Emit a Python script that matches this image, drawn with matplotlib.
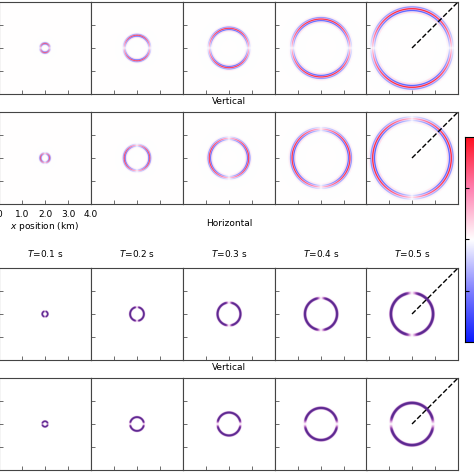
import numpy as np
import matplotlib
matplotlib.use("Agg")
import matplotlib.pyplot as plt
from matplotlib.colors import LinearSegmentedColormap

times = [0.1, 0.2, 0.3, 0.4, 0.5]
radii_p = [0.2, 0.55, 0.85, 1.25, 1.7]   # km, upper two rows
radii_s = [0.12, 0.3, 0.5, 0.7, 0.92]    # km, lower two rows
# angle of the amplitude nodes (gaps) for each row, degrees
gap_angle = [0, 90, 90, 0]

W = 474.0
col_left = [-1, 91, 183, 275, 366]
col_w = 92
row_top = [2, 112, 268, 378]
row_h = 92

fig = plt.figure(figsize=(4.74, 4.74), dpi=100)
bwr = LinearSegmentedColormap.from_list("bwr2", ["#0a1aff", "#8080ff", "#ffffff", "#ff80b0", "#ff1020"])
purp = LinearSegmentedColormap.from_list("purp", ["#ffffff", "#e0a8e0", "#8a3fa8", "#5a2a90"])

x = np.linspace(0, 4, 300)
X, Y = np.meshgrid(x, x)
R = np.hypot(X - 2, Y - 2)
TH = np.arctan2(Y - 2, X - 2)


def ax_at(l, t, w, h):
    return fig.add_axes([l / W, 1 - (t + h) / W, w / W, h / W])


for r in range(4):
    for c in range(5):
        ax = ax_at(col_left[c], row_top[r], col_w, row_h)
        g = np.radians(gap_angle[r])
        env = np.abs(np.sin(TH - g)) ** 0.5
        if r < 2:
            rad = radii_p[c]
            w = 0.05 + 0.015 * c
            field = np.exp(-((R - rad) / w) ** 2) * np.sin((R - rad) / w * 4.0 + 1.0) * env
            ax.imshow(field, extent=[0, 4, 0, 4], origin="lower", cmap=bwr, vmin=-0.9, vmax=0.9)
        else:
            rad = radii_s[c]
            w = 0.04 + 0.006 * c
            env2 = np.clip(np.abs(np.sin(TH - g)) * 3, 0, 1)
            field = np.exp(-((R - rad) / w) ** 4) * env2
            ax.imshow(field, extent=[0, 4, 0, 4], origin="lower", cmap=purp, vmin=0, vmax=0.9)
        if c == 4:
            ax.plot([2, 4], [2, 4], "k--", lw=1)
        ax.set_xlim(0, 4)
        ax.set_ylim(0, 4)
        ax.set_xticks([1, 2, 3])
        ax.set_yticks([1, 2, 3])
        ax.tick_params(direction="in", length=3, width=0.6, color="#555555",
                       labelbottom=False, labelleft=False)
        for s in ax.spines.values():
            s.set_color("#444444")
            s.set_linewidth(0.8)
        if r == 1 and c == 0:
            ax.set_xticks([0, 1, 2, 3, 4])
            ax.set_xticklabels(["0", "1.0", "2.0", "3.0", "4.0"])
            ax.tick_params(labelbottom=True, labelsize=6.5, pad=4)
            ax.set_xlabel(r"$x$ position (km)", fontsize=6.5, labelpad=1)
        if r == 2:
            ax.set_title(r"$T$=%.1f s" % times[c], fontsize=6.5, pad=8)

fig.text(229 / W, 1 - 101 / W, "Vertical", ha="center", va="center", fontsize=6.5)
fig.text(229 / W, 1 - 223 / W, "Horizontal", ha="center", va="center", fontsize=6.5)
fig.text(229 / W, 1 - 368 / W, "Vertical", ha="center", va="center", fontsize=6.5)

cax = fig.add_axes([465 / W, 1 - 342 / W, 12 / W, 205 / W])
grad = np.linspace(-1, 1, 256).reshape(-1, 1)
cax.imshow(grad, aspect="auto", cmap=bwr, origin="lower", extent=[0, 1, -1, 1])
cax.set_xticks([])
cax.set_yticks([-0.5, 0, 0.5])
cax.tick_params(direction="in", length=3, labelleft=False, labelright=False)

fig.savefig("out.png", dpi=100)
